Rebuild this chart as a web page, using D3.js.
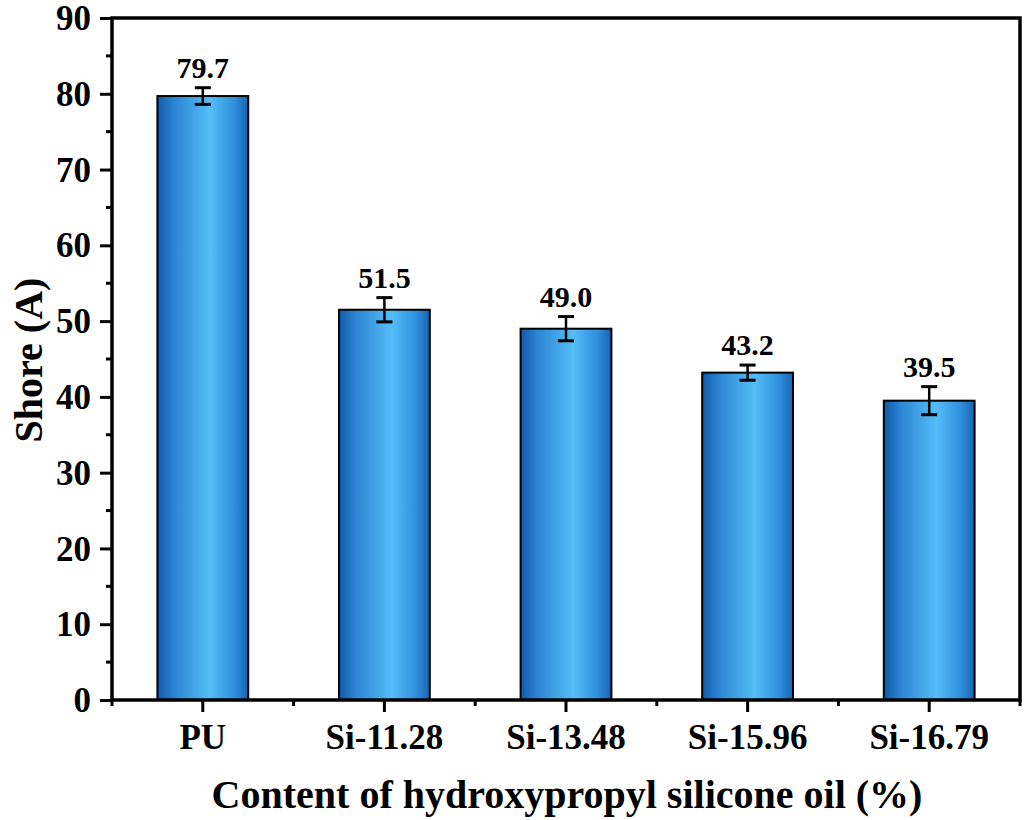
<!DOCTYPE html>
<html>
<head>
<meta charset="utf-8">
<script src="https://cdn.jsdelivr.net/npm/d3@7"></script>
<style>
  body { margin: 0; background: #fff; }
  text { font-family: "Liberation Serif", "Times New Roman", serif; font-weight: bold; fill: #000; }
</style>
</head>
<body>
<script>
// chart values
var categories = ["PU", "Si-11.28", "Si-13.48", "Si-15.96", "Si-16.79"];
var shore = [79.7, 51.5, 49.0, 43.2, 39.5];
var shoreErr = [1.1, 1.6, 1.6, 1.0, 1.85];
var yTicks = [0, 10, 20, 30, 40, 50, 60, 70, 80, 90];

var width = 1025, height = 820;
var margin = {top: 18, right: 5, bottom: 120, left: 112};
var plotW = width - margin.left - margin.right;
var plotH = height - margin.top - margin.bottom;

var svg = d3.select('body').append('svg')
  .attr('width', width)
  .attr('height', height);

var defs = svg.append('defs');
var grad = defs.append('linearGradient')
  .attr('id', 'barGrad')
  .attr('x1', '0%').attr('x2', '100%')
  .attr('y1', '0%').attr('y2', '0%');
grad.append('stop').attr('offset', '0%').attr('stop-color', '#0f5aa8');
grad.append('stop').attr('offset', '18%').attr('stop-color', '#2c84d2');
grad.append('stop').attr('offset', '58%').attr('stop-color', '#55bdf8');
grad.append('stop').attr('offset', '85%').attr('stop-color', '#2f8fdc');
grad.append('stop').attr('offset', '100%').attr('stop-color', '#1663b2');

var g = svg.append('g').attr('transform', 'translate(' + margin.left + ',' + margin.top + ')');

var x = d3.scaleBand().domain(categories).range([0, plotW])
  .paddingInner(0.5).paddingOuter(0.25);
var y = d3.scaleLinear().domain([0, 90]).range([plotH, 0]);

var data = categories.map(function(c, i) {
  return {cat: c, v: shore[i], e: shoreErr[i]};
});

// bars
g.selectAll('rect.bar')
  .data(data)
  .enter().append('rect')
  .attr('class', 'bar')
  .attr('x', function(d) { return x(d.cat); })
  .attr('y', function(d) { return y(d.v); })
  .attr('width', x.bandwidth())
  .attr('height', function(d) { return plotH - y(d.v); })
  .attr('fill', 'url(#barGrad)')
  .attr('stroke', '#000')
  .attr('stroke-width', 2);

// error bars
var cx = function(d) { return x(d.cat) + x.bandwidth() / 2; };
var eb = g.selectAll('g.err').data(data).enter().append('g').attr('class', 'err');
eb.append('line')
  .attr('x1', cx).attr('x2', cx)
  .attr('y1', function(d) { return y(d.v + d.e); })
  .attr('y2', function(d) { return y(d.v - d.e); })
  .attr('stroke', '#000').attr('stroke-width', 2.5);
eb.selectAll('line.cap')
  .data(function(d) { return [{d: d, val: d.v + d.e}, {d: d, val: d.v - d.e}]; })
  .enter().append('line')
  .attr('class', 'cap')
  .attr('x1', function(p) { return cx(p.d) - 8; })
  .attr('x2', function(p) { return cx(p.d) + 8; })
  .attr('y1', function(p) { return y(p.val); })
  .attr('y2', function(p) { return y(p.val); })
  .attr('stroke', '#000').attr('stroke-width', 3);

// value labels
g.selectAll('text.val')
  .data(data)
  .enter().append('text')
  .attr('class', 'val')
  .attr('x', cx)
  .attr('y', function(d) { return y(d.v + d.e) - 10; })
  .attr('text-anchor', 'middle')
  .style('font-size', '30px')
  .text(function(d) { return d.v.toFixed(1); });

// axes
var yAxis = d3.axisLeft(y).tickValues(yTicks).tickSize(12).tickPadding(9);
var yG = g.append('g').call(yAxis);
yG.select('.domain').remove();
yG.selectAll('line').attr('stroke', '#000').attr('stroke-width', 3);
yG.selectAll('text').style('font-size', '35px').attr('dy', '0.33em');

// y minor ticks
g.selectAll('line.yminor')
  .data(d3.range(5, 90, 10))
  .enter().append('line')
  .attr('x1', -6).attr('x2', 0)
  .attr('y1', function(d) { return y(d); })
  .attr('y2', function(d) { return y(d); })
  .attr('stroke', '#000').attr('stroke-width', 3);

var xAxis = d3.axisBottom(x).tickSize(12).tickPadding(12);
var xG = g.append('g').attr('transform', 'translate(0,' + plotH + ')').call(xAxis);
xG.select('.domain').remove();
xG.selectAll('line').attr('stroke', '#000').attr('stroke-width', 3);
xG.selectAll('text').style('font-size', '35px').attr('dy', '0.71em');

// x minor ticks between categories
var step = x.step();
var x0 = x(categories[0]) - x.step() * x.paddingOuter() - (x.step() - x.bandwidth()) / 2 + x.step() * x.paddingOuter();
g.selectAll('line.xminor')
  .data(d3.range(0, categories.length + 1))
  .enter().append('line')
  .attr('x1', function(i) { return i * plotW / categories.length; })
  .attr('x2', function(i) { return i * plotW / categories.length; })
  .attr('y1', plotH).attr('y2', plotH + 6)
  .attr('stroke', '#000').attr('stroke-width', 3);

// frame
g.append('rect')
  .attr('x', 0).attr('y', 0)
  .attr('width', plotW).attr('height', plotH)
  .attr('fill', 'none')
  .attr('stroke', '#000')
  .attr('stroke-width', 3.5);

// titles
svg.append('text')
  .attr('x', 567)
  .attr('y', 808)
  .attr('text-anchor', 'middle')
  .style('font-size', '40px')
  .text('Content of hydroxypropyl silicone oil (%)');

svg.append('text')
  .attr('transform', 'translate(42,' + 360 + ') rotate(-90)')
  .attr('text-anchor', 'middle')
  .style('font-size', '40px')
  .text('Shore (A)');
</script>
</body>
</html>
